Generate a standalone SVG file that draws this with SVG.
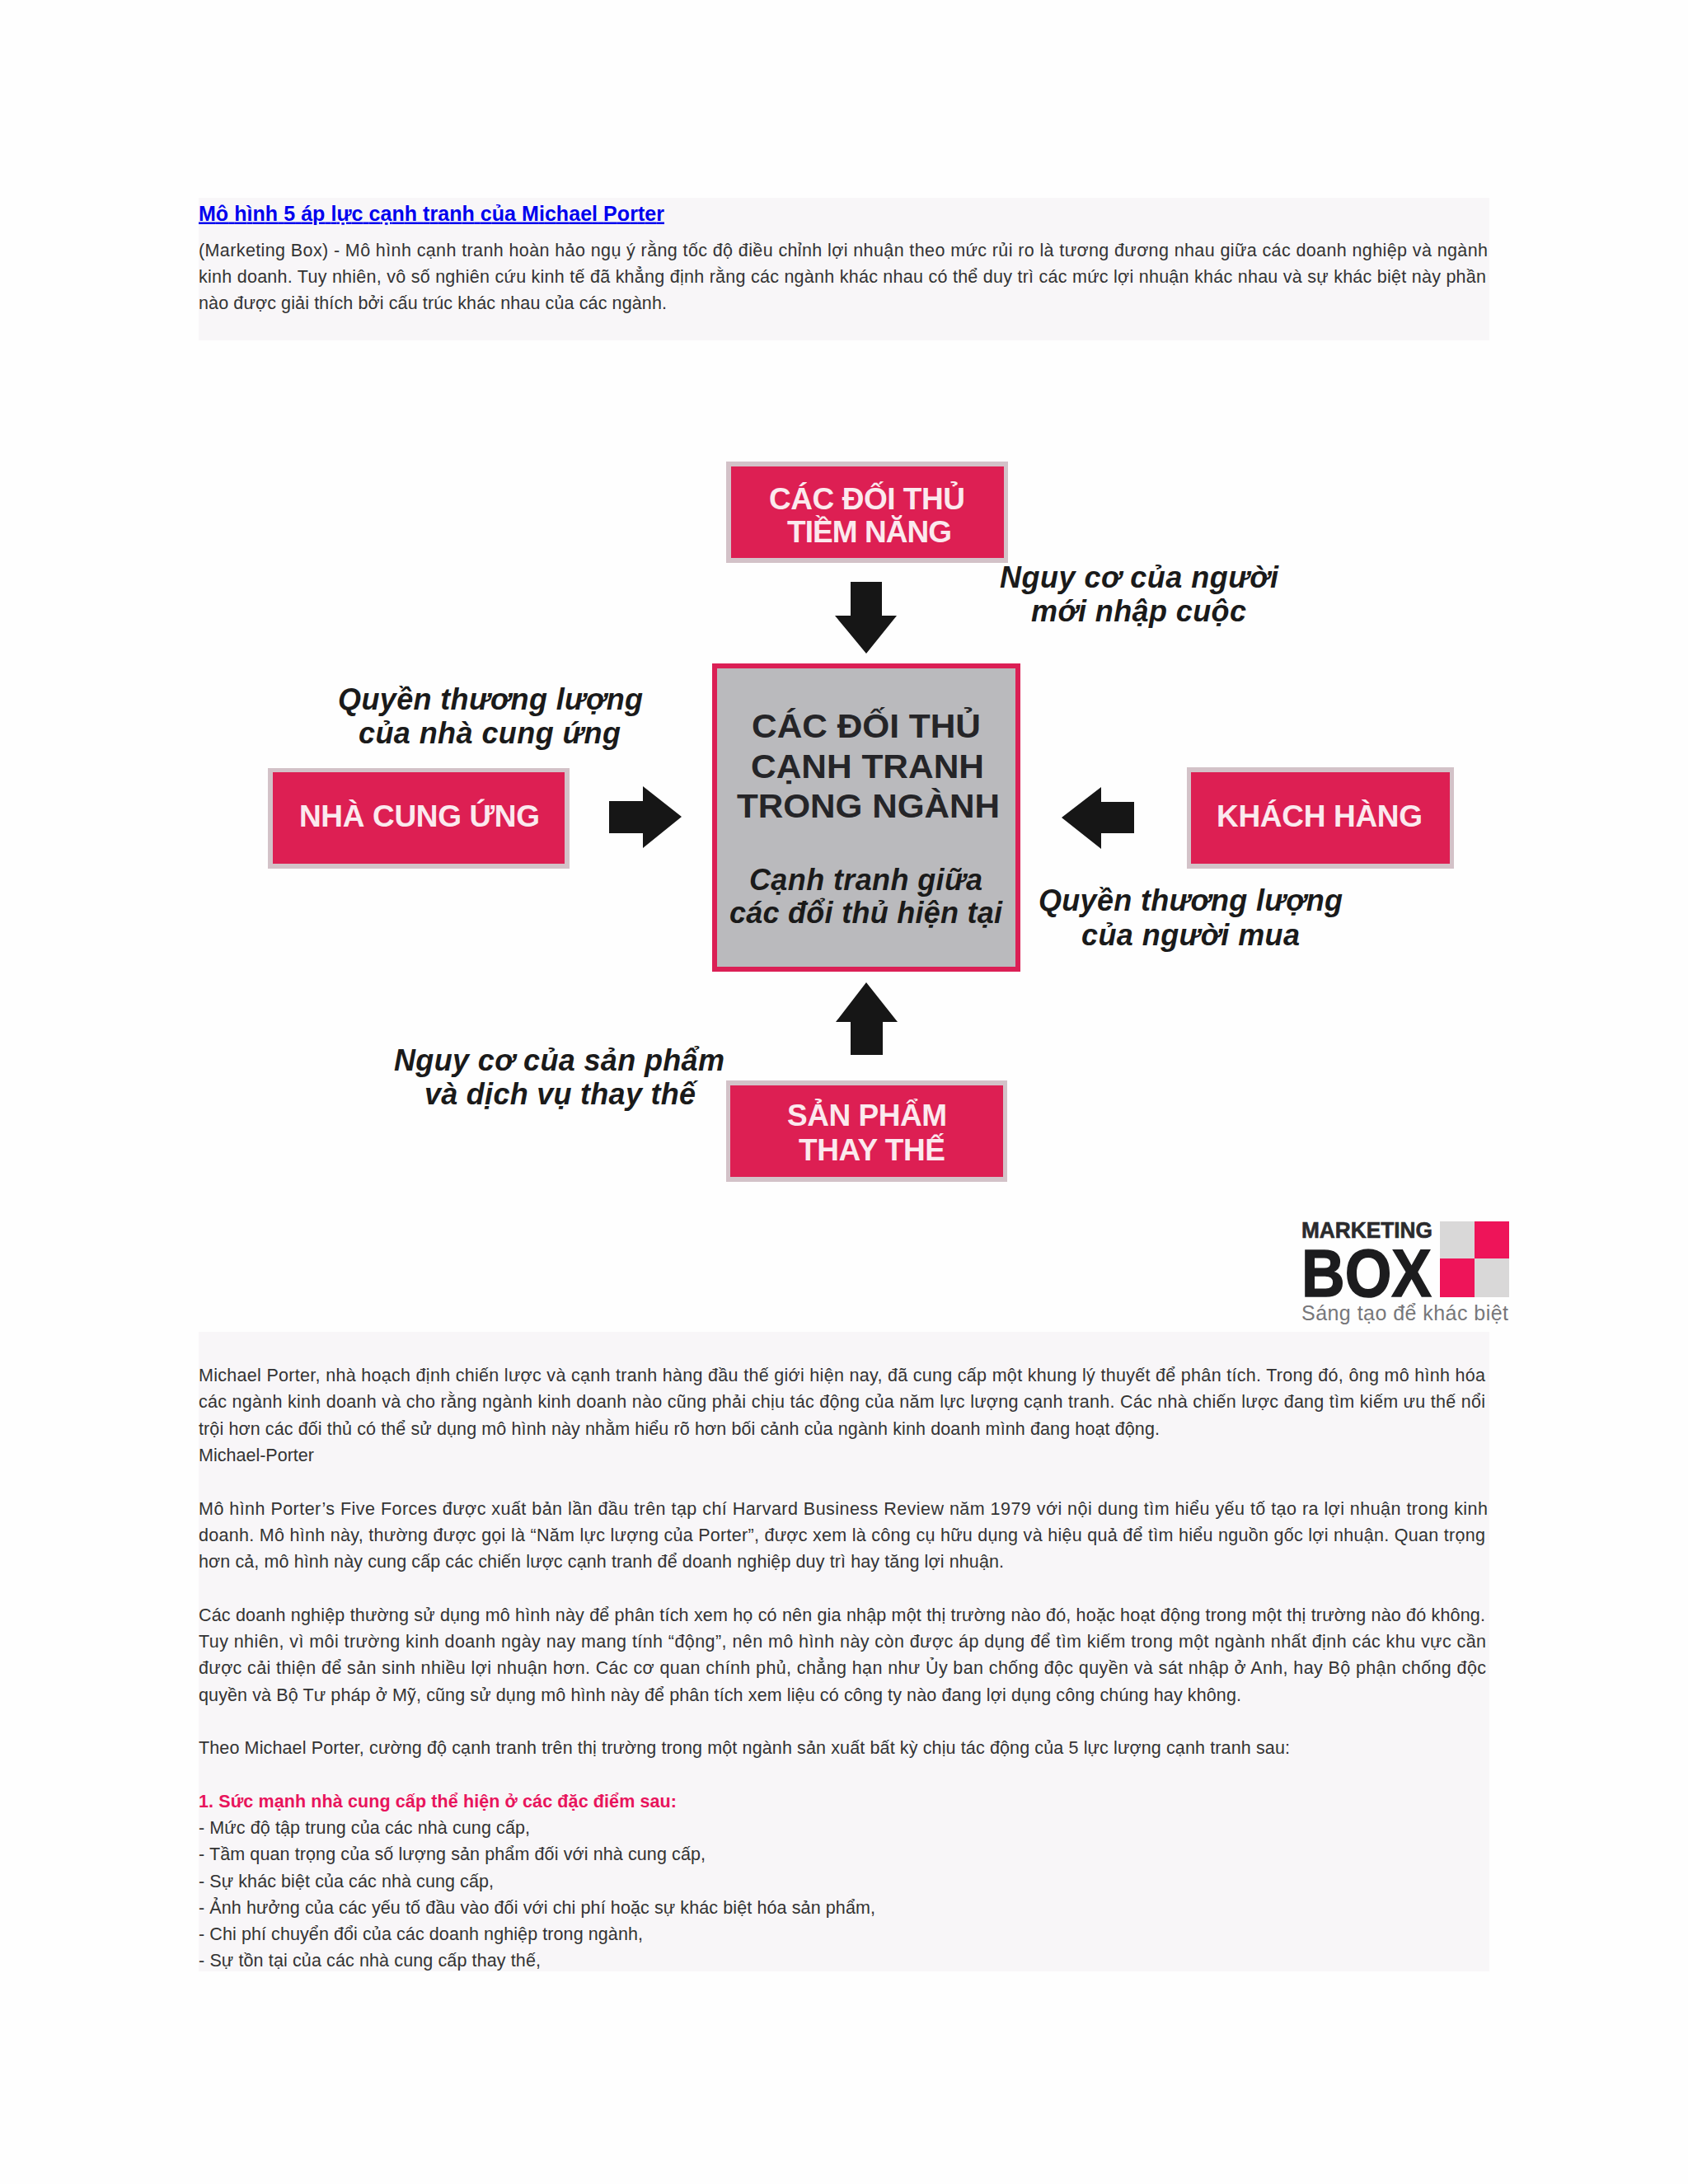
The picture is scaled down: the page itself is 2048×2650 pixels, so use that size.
<svg xmlns="http://www.w3.org/2000/svg" width="2048" height="2650" viewBox="0 0 2048 2650">
<style>
text{font-family:"Liberation Sans",Arial,sans-serif}
.b{font-size:21.5px;fill:#333}
.t{font-size:25px;font-weight:700;fill:#0000ee;text-decoration:underline}
.h{font-size:21.5px;font-weight:700;fill:#e8145c}
.w{font-weight:700;fill:#fbe9ee;text-anchor:start}
.c{font-weight:700;fill:#252528}
.i{font-weight:700;font-style:italic;fill:#1a1a1a}
.outer{fill:#d3c2c8}
.inner{fill:#dd1f53}
.arrow{fill:#161616}
.panel{fill:#f8f6f8}
</style>
<rect width="2048" height="2650" fill="#fefefe"/>
<g id="panels"><rect class="panel" x="241" y="240" width="1566" height="173"/><rect class="panel" x="241" y="1616" width="1566" height="776"/></g>
<g id="intro">
<text class="t" x="241" y="267.500" textLength="565">Mô hình 5 áp lực cạnh tranh của Michael Porter</text>
<text class="b" x="241" y="310.500" textLength="1564">(Marketing Box) - Mô hình cạnh tranh hoàn hảo ngụ ý rằng tốc độ điều chỉnh lợi nhuận theo mức rủi ro là tương đương nhau giữa các doanh nghiệp và ngành</text>
<text class="b" x="241" y="342.500" textLength="1562">kinh doanh. Tuy nhiên, vô số nghiên cứu kinh tế đã khẳng định rằng các ngành khác nhau có thể duy trì các mức lợi nhuận khác nhau và sự khác biệt này phần</text>
<text class="b" x="241" y="374.500" textLength="568">nào được giải thích bởi cấu trúc khác nhau của các ngành.</text>
</g>
<g id="connectors">
<path class="arrow" d="M1032 706H1070V747H1088L1051 793L1013 747H1032Z"/>
<path class="arrow" d="M739 972H780V954L827 991L780 1029V1011H739Z"/>
<path class="arrow" d="M1376 973H1336V955L1288 992L1336 1030V1011H1376Z"/>
<path class="arrow" d="M1032 1280V1240H1014L1051 1192L1089 1240H1071V1280Z"/>
</g>
<g id="node-potential">
<rect class="outer" x="881" y="560" width="342" height="123"/><rect class="inner" x="887" y="566" width="331" height="111"/>
<text class="w" x="933" y="618" font-size="37" textLength="238">CÁC ĐỐI THỦ</text>
<text class="w" x="955" y="658" font-size="37" textLength="200">TIỀM NĂNG</text>
</g>
<g id="node-center">
<rect x="864" y="805" width="374" height="374" fill="#db1f55"/><rect x="870" y="811" width="362" height="362" fill="#bababd"/>
<text class="c" x="912" y="895" font-size="41" textLength="278" lengthAdjust="spacingAndGlyphs">CÁC ĐỐI THỦ</text>
<text class="c" x="911" y="944" font-size="41" textLength="283" lengthAdjust="spacingAndGlyphs">CẠNH TRANH</text>
<text class="c" x="894" y="992" font-size="41" textLength="319" lengthAdjust="spacingAndGlyphs">TRONG NGÀNH</text>
<text class="i" x="909" y="1080" font-size="36" textLength="283">Cạnh tranh giữa</text>
<text class="i" x="885" y="1120" font-size="36" textLength="331">các đổi thủ hiện tại</text>
</g>
<g id="node-supplier">
<rect class="outer" x="325" y="932" width="366" height="122"/><rect class="inner" x="331" y="937" width="354" height="111"/>
<text class="w" x="363" y="1003" font-size="37" textLength="292">NHÀ CUNG ỨNG</text>
</g>
<g id="node-customer">
<rect class="outer" x="1440" y="931" width="324" height="123"/><rect class="inner" x="1445" y="937" width="314" height="111"/>
<text class="w" x="1476" y="1003" font-size="37" textLength="250">KHÁCH HÀNG</text>
</g>
<g id="node-substitute">
<rect class="outer" x="881" y="1311" width="341" height="123"/><rect class="inner" x="886" y="1317" width="331" height="111"/>
<text class="w" x="955" y="1366" font-size="37" textLength="194">SẢN PHẨM</text>
<text class="w" x="969" y="1408" font-size="37" textLength="178">THAY THẾ</text>
</g>
<g id="labels">
<text class="i" x="1213" y="713" font-size="36" textLength="338">Nguy cơ của người</text>
<text class="i" x="1251" y="754" font-size="36" textLength="261">mới nhập cuộc</text>
<text class="i" x="410" y="861" font-size="36" textLength="370">Quyền thương lượng</text>
<text class="i" x="435" y="902" font-size="36" textLength="318">của nhà cung ứng</text>
<text class="i" x="1260" y="1105" font-size="36" textLength="369">Quyền thương lượng</text>
<text class="i" x="1312" y="1147" font-size="36" textLength="265">của người mua</text>
<text class="i" x="478" y="1299" font-size="36" textLength="401">Nguy cơ của sản phẩm</text>
<text class="i" x="515" y="1340" font-size="36" textLength="329">và dịch vụ thay thế</text>
</g>
<g id="logo">
<text x="1579" y="1502" font-size="27" font-weight="700" fill="#2b2b2d" stroke="#2b2b2d" stroke-width="0.6" textLength="159" lengthAdjust="spacingAndGlyphs">MARKETING</text>
<text x="1579" y="1573" font-size="82" font-weight="700" fill="#1c1c1e" stroke="#1c1c1e" stroke-width="1.5" textLength="158" lengthAdjust="spacingAndGlyphs">BOX</text>
<rect x="1747" y="1482" width="42" height="45" fill="#d9d8d8"/><rect x="1789" y="1482" width="42" height="45" fill="#ee1459"/>
<rect x="1747" y="1527" width="42" height="47" fill="#ee1459"/><rect x="1789" y="1527" width="42" height="47" fill="#d9d8d8"/>
<text x="1579" y="1602" font-size="25" fill="#77777a" textLength="251">Sáng tạo để khác biệt</text>
</g>
<g id="body">
<text class="b" x="241" y="1676" textLength="1561">Michael Porter, nhà hoạch định chiến lược và cạnh tranh hàng đầu thế giới hiện nay, đã cung cấp một khung lý thuyết để phân tích. Trong đó, ông mô hình hóa</text>
<text class="b" x="241" y="1708.300" textLength="1561">các ngành kinh doanh và cho rằng ngành kinh doanh nào cũng phải chịu tác động của năm lực lượng cạnh tranh. Các nhà chiến lược đang tìm kiếm ưu thế nổi</text>
<text class="b" x="241" y="1740.600" textLength="1166">trội hơn các đối thủ có thể sử dụng mô hình này nhằm hiểu rõ hơn bối cảnh của ngành kinh doanh mình đang hoạt động.</text>
<text class="b" x="241" y="1772.900" textLength="140">Michael-Porter</text>
<text class="b" x="241" y="1837.500" textLength="1564">Mô hình Porter’s Five Forces được xuất bản lần đầu trên tạp chí Harvard Business Review năm 1979 với nội dung tìm hiểu yếu tố tạo ra lợi nhuận trong kinh</text>
<text class="b" x="241" y="1869.800" textLength="1561">doanh. Mô hình này, thường được gọi là “Năm lực lượng của Porter”, được xem là công cụ hữu dụng và hiệu quả để tìm hiểu nguồn gốc lợi nhuận. Quan trọng</text>
<text class="b" x="241" y="1902.100" textLength="977">hơn cả, mô hình này cung cấp các chiến lược cạnh tranh để doanh nghiệp duy trì hay tăng lợi nhuận.</text>
<text class="b" x="241" y="1966.700" textLength="1561">Các doanh nghiệp thường sử dụng mô hình này để phân tích xem họ có nên gia nhập một thị trường nào đó, hoặc hoạt động trong một thị trường nào đó không.</text>
<text class="b" x="241" y="1999" textLength="1562">Tuy nhiên, vì môi trường kinh doanh ngày nay mang tính “động”, nên mô hình này còn được áp dụng để tìm kiếm trong một ngành nhất định các khu vực cần</text>
<text class="b" x="241" y="2031.300" textLength="1562">được cải thiện để sản sinh nhiều lợi nhuận hơn. Các cơ quan chính phủ, chẳng hạn như Ủy ban chống độc quyền và sát nhập ở Anh, hay Bộ phận chống độc</text>
<text class="b" x="241" y="2063.600" textLength="1265">quyền và Bộ Tư pháp ở Mỹ, cũng sử dụng mô hình này để phân tích xem liệu có công ty nào đang lợi dụng công chúng hay không.</text>
<text class="b" x="241" y="2128.200" textLength="1324">Theo Michael Porter, cường độ cạnh tranh trên thị trường trong một ngành sản xuất bất kỳ chịu tác động của 5 lực lượng cạnh tranh sau:</text>
<text class="h" x="241" y="2192.800" textLength="580">1. Sức mạnh nhà cung cấp thể hiện ở các đặc điểm sau:</text>
<text class="b" x="241" y="2225.100" textLength="402">- Mức độ tập trung của các nhà cung cấp,</text>
<text class="b" x="241" y="2257.400" textLength="615">- Tầm quan trọng của số lượng sản phẩm đối với nhà cung cấp,</text>
<text class="b" x="241" y="2289.700" textLength="358">- Sự khác biệt của các nhà cung cấp,</text>
<text class="b" x="241" y="2322" textLength="821">- Ảnh hưởng của các yếu tố đầu vào đối với chi phí hoặc sự khác biệt hóa sản phẩm,</text>
<text class="b" x="241" y="2354.300" textLength="539">- Chi phí chuyển đổi của các doanh nghiệp trong ngành,</text>
<text class="b" x="241" y="2386" textLength="415">- Sự tồn tại của các nhà cung cấp thay thế,</text>
</g>
</svg>
